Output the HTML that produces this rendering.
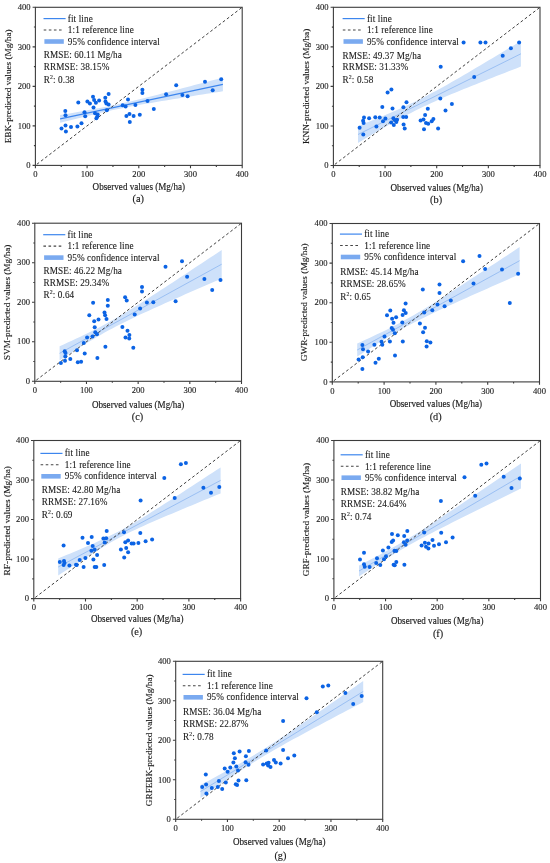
<!DOCTYPE html>
<html><head><meta charset="utf-8"><title>Predicted vs observed AGB scatter plots</title><style>
html,body{margin:0;padding:0;background:#fff;width:550px;height:863px;overflow:hidden}
svg{display:block}
text{font-family:"Liberation Serif", "Times New Roman", serif;fill:#1a1a1a;stroke:#1a1a1a;stroke-width:0.14px}
.tk{fill:#222;stroke:#222;stroke-width:0.12px}
.lg{stroke-width:0.1px}
circle{fill:#0b63e4}
</style></head><body>
<svg width="550" height="863" viewBox="0 0 550 863">
<path d="M60.1 115 L64.17 114.32 L68.24 113.64 L72.31 112.94 L76.38 112.24 L80.45 111.53 L84.52 110.81 L88.59 110.08 L92.66 109.33 L96.73 108.56 L100.8 107.77 L104.87 106.97 L108.94 106.14 L113.01 105.29 L117.08 104.41 L121.15 103.51 L125.22 102.59 L129.29 101.65 L133.36 100.69 L137.43 99.72 L141.5 98.73 L145.57 97.72 L149.64 96.71 L153.71 95.68 L157.78 94.65 L161.85 93.61 L165.92 92.56 L169.99 91.51 L174.06 90.45 L178.13 89.39 L182.2 88.32 L186.27 87.26 L190.34 86.18 L194.41 85.11 L198.48 84.04 L202.55 82.96 L206.62 81.88 L210.69 80.8 L214.76 79.72 L218.83 78.63 L222.9 77.55 L222.9 91.25 L218.83 91.89 L214.76 92.53 L210.69 93.18 L206.62 93.82 L202.55 94.47 L198.48 95.11 L194.41 95.76 L190.34 96.42 L186.27 97.07 L182.2 97.73 L178.13 98.39 L174.06 99.05 L169.99 99.72 L165.92 100.39 L161.85 101.07 L157.78 101.75 L153.71 102.44 L149.64 103.14 L145.57 103.85 L141.5 104.57 L137.43 105.31 L133.36 106.06 L129.29 106.82 L125.22 107.61 L121.15 108.41 L117.08 109.24 L113.01 110.09 L108.94 110.96 L104.87 111.86 L100.8 112.78 L96.73 113.71 L92.66 114.67 L88.59 115.65 L84.52 116.64 L80.45 117.64 L76.38 118.66 L72.31 119.68 L68.24 120.71 L64.17 121.75 L60.1 122.8 Z" fill="#cee1fa"/>
<line x1="60.1" y1="118.9" x2="222.9" y2="84.4" stroke="#3d86ee" stroke-width="1.1"/>
<line x1="36.9" y1="164.25" x2="242.2" y2="7.3" stroke="#404040" stroke-width="1" stroke-dasharray="2.8 2.4"/>
<circle cx="61.5" cy="128.5" r="2"/>
<circle cx="65.5" cy="125.5" r="2"/>
<circle cx="65.9" cy="131.5" r="2"/>
<circle cx="71" cy="127.1" r="2"/>
<circle cx="77.4" cy="126.4" r="2"/>
<circle cx="81.5" cy="123.3" r="2"/>
<circle cx="65.3" cy="111.1" r="2"/>
<circle cx="65.5" cy="115.3" r="2"/>
<circle cx="78.3" cy="102.5" r="2"/>
<circle cx="84.5" cy="112.2" r="2"/>
<circle cx="85.2" cy="116.2" r="2"/>
<circle cx="87.4" cy="101.5" r="2"/>
<circle cx="89.9" cy="103.5" r="2"/>
<circle cx="93" cy="96.7" r="2"/>
<circle cx="93.5" cy="107.4" r="2"/>
<circle cx="94.1" cy="100" r="2"/>
<circle cx="95.9" cy="102.7" r="2"/>
<circle cx="99.1" cy="100.6" r="2"/>
<circle cx="95" cy="113.2" r="2"/>
<circle cx="97.7" cy="114.5" r="2"/>
<circle cx="97.3" cy="116.4" r="2"/>
<circle cx="96.4" cy="118.2" r="2"/>
<circle cx="108.6" cy="94.1" r="2"/>
<circle cx="105.3" cy="97.7" r="2"/>
<circle cx="105.5" cy="101.4" r="2"/>
<circle cx="106.4" cy="103.6" r="2"/>
<circle cx="108.6" cy="104.5" r="2"/>
<circle cx="106.8" cy="110.3" r="2"/>
<circle cx="128" cy="99.4" r="2"/>
<circle cx="122.7" cy="105.2" r="2"/>
<circle cx="125.6" cy="106.4" r="2"/>
<circle cx="135.4" cy="105.1" r="2"/>
<circle cx="126.4" cy="115.9" r="2"/>
<circle cx="129.5" cy="114.1" r="2"/>
<circle cx="133.6" cy="116.1" r="2"/>
<circle cx="129.8" cy="122.1" r="2"/>
<circle cx="139.8" cy="114.8" r="2"/>
<circle cx="142.4" cy="89.8" r="2"/>
<circle cx="142.4" cy="92.9" r="2"/>
<circle cx="147.5" cy="101.1" r="2"/>
<circle cx="153.8" cy="109" r="2"/>
<circle cx="166.1" cy="94.2" r="2"/>
<circle cx="176.2" cy="85.3" r="2"/>
<circle cx="182.4" cy="94.9" r="2"/>
<circle cx="187.6" cy="96.3" r="2"/>
<circle cx="205" cy="81.8" r="2"/>
<circle cx="212.7" cy="90.3" r="2"/>
<circle cx="221.2" cy="79.3" r="2"/>
<rect x="35.4" y="7.3" width="206.8" height="158.1" fill="none" stroke="#3c3c3c" stroke-width="1.1"/>
<path d="M35.4 165.4v2.8M35.4 165.4h-2.8M87.1 165.4v2.8M35.4 125.88h-2.8M138.8 165.4v2.8M35.4 86.35h-2.8M190.5 165.4v2.8M35.4 46.83h-2.8M242.2 165.4v2.8M35.4 7.3h-2.8M61.25 165.4v1.5M35.4 145.64h-1.5M112.95 165.4v1.5M35.4 106.11h-1.5M164.65 165.4v1.5M35.4 66.59h-1.5M216.35 165.4v1.5M35.4 27.06h-1.5" stroke="#3c3c3c" stroke-width="1.1" fill="none"/>
<text transform="translate(35.4 177) scale(1 1.07)" font-size="8.6" text-anchor="middle" class="tk">0</text>
<text transform="translate(30.6 168.1) scale(1 1.05)" font-size="8.6" text-anchor="end" class="tk">0</text>
<text transform="translate(87.1 177) scale(1 1.07)" font-size="8.6" text-anchor="middle" class="tk">100</text>
<text transform="translate(30.6 128.57) scale(1 1.05)" font-size="8.6" text-anchor="end" class="tk">100</text>
<text transform="translate(138.8 177) scale(1 1.07)" font-size="8.6" text-anchor="middle" class="tk">200</text>
<text transform="translate(30.6 89.05) scale(1 1.05)" font-size="8.6" text-anchor="end" class="tk">200</text>
<text transform="translate(190.5 177) scale(1 1.07)" font-size="8.6" text-anchor="middle" class="tk">300</text>
<text transform="translate(30.6 49.53) scale(1 1.05)" font-size="8.6" text-anchor="end" class="tk">300</text>
<text transform="translate(242.2 177) scale(1 1.07)" font-size="8.6" text-anchor="middle" class="tk">400</text>
<text transform="translate(30.6 10) scale(1 1.05)" font-size="8.6" text-anchor="end" class="tk">400</text>
<text transform="translate(138.8 190.3) scale(1 1.15)" font-size="9.1" text-anchor="middle">Observed values (Mg/ha)</text>
<text x="138.2" y="202.4" font-size="10.3" text-anchor="middle">(a)</text>
<text transform="translate(10.9 86.35) rotate(-90)" text-anchor="middle" font-size="9.2">EBK-predicted values (Mg/ha)</text>
<line x1="43.5" y1="18.6" x2="65.6" y2="18.6" stroke="#3d86ee" stroke-width="1.2"/>
<line x1="43.7" y1="30" x2="62.3" y2="30" stroke="#444" stroke-width="1.1" stroke-dasharray="2.6 2.5"/>
<rect x="44.4" y="39.2" width="19.4" height="4.6" fill="#7aaaf0"/>
<text transform="translate(67.8 21.6) scale(1 1.06)" font-size="9.2" letter-spacing="0.1" class="lg">fit line</text>
<text transform="translate(67.8 33.3) scale(1 1.06)" font-size="9.2" letter-spacing="0.1" class="lg">1:1 reference line</text>
<text transform="translate(67.8 44.5) scale(1 1.06)" font-size="9.2" letter-spacing="0.1" class="lg">95% confidence interval</text>
<text transform="translate(43.8 58) scale(1 1.06)" font-size="9.2" letter-spacing="0.1" class="lg">RMSE: 60.11 Mg/ha</text>
<text transform="translate(43.8 69.6) scale(1 1.06)" font-size="9.2" letter-spacing="0.1" class="lg">RRMSE: 38.15%</text>
<text transform="translate(43.8 82.6) scale(1 1.06)" font-size="9.2" letter-spacing="0.1" class="lg">R<tspan font-size="5.8" dy="-3.7">2</tspan><tspan dy="3.7">: 0.38</tspan></text>
<path d="M358 126.1 L362.07 124.48 L366.14 122.84 L370.22 121.2 L374.29 119.54 L378.36 117.87 L382.44 116.18 L386.51 114.47 L390.58 112.74 L394.65 110.98 L398.73 109.19 L402.8 107.36 L406.87 105.5 L410.94 103.59 L415.01 101.64 L419.09 99.64 L423.16 97.59 L427.23 95.49 L431.31 93.34 L435.38 91.16 L439.45 88.93 L443.52 86.68 L447.59 84.39 L451.67 82.08 L455.74 79.75 L459.81 77.39 L463.88 75.02 L467.96 72.64 L472.03 70.25 L476.1 67.84 L480.17 65.43 L484.25 63.01 L488.32 60.58 L492.39 58.15 L496.46 55.71 L500.54 53.27 L504.61 50.82 L508.68 48.37 L512.75 45.92 L516.83 43.46 L520.9 41 L520.9 66.6 L516.83 68.18 L512.75 69.75 L508.68 71.34 L504.61 72.92 L500.54 74.51 L496.46 76.1 L492.39 77.7 L488.32 79.3 L484.25 80.91 L480.17 82.52 L476.1 84.14 L472.03 85.77 L467.96 87.41 L463.88 89.07 L459.81 90.73 L455.74 92.41 L451.67 94.12 L447.59 95.84 L443.52 97.59 L439.45 99.37 L435.38 101.18 L431.31 103.03 L427.23 104.92 L423.16 106.85 L419.09 108.84 L415.01 110.87 L410.94 112.95 L406.87 115.08 L402.8 117.25 L398.73 119.46 L394.65 121.71 L390.58 123.98 L386.51 126.29 L382.44 128.61 L378.36 130.96 L374.29 133.32 L370.22 135.7 L366.14 138.09 L362.07 140.49 L358 142.9 Z" fill="#cee1fa"/>
<line x1="358" y1="134.5" x2="520.9" y2="53.8" stroke="#94bbf2" stroke-width="0.9"/>
<line x1="334.9" y1="164.35" x2="540" y2="7.3" stroke="#404040" stroke-width="1" stroke-dasharray="2.8 2.4"/>
<circle cx="359.6" cy="127.7" r="2"/>
<circle cx="363.3" cy="134.6" r="2"/>
<circle cx="364" cy="117.5" r="2"/>
<circle cx="363.1" cy="120.8" r="2"/>
<circle cx="363.6" cy="123" r="2"/>
<circle cx="369.1" cy="118.3" r="2"/>
<circle cx="375.3" cy="117.2" r="2"/>
<circle cx="376.4" cy="126.4" r="2"/>
<circle cx="379.7" cy="117.5" r="2"/>
<circle cx="382.3" cy="107" r="2"/>
<circle cx="383" cy="121.2" r="2"/>
<circle cx="385.4" cy="118.6" r="2"/>
<circle cx="387.6" cy="92.4" r="2"/>
<circle cx="391.4" cy="89.4" r="2"/>
<circle cx="392.5" cy="108.4" r="2"/>
<circle cx="391.2" cy="122.6" r="2"/>
<circle cx="393.4" cy="118.3" r="2"/>
<circle cx="394.7" cy="120.1" r="2"/>
<circle cx="393.8" cy="125.1" r="2"/>
<circle cx="396.3" cy="121.9" r="2"/>
<circle cx="397.1" cy="119.7" r="2"/>
<circle cx="403.4" cy="107.2" r="2"/>
<circle cx="406.5" cy="102.2" r="2"/>
<circle cx="403.2" cy="116.9" r="2"/>
<circle cx="406.2" cy="116.9" r="2"/>
<circle cx="403.6" cy="124.4" r="2"/>
<circle cx="404.7" cy="128.4" r="2"/>
<circle cx="427.8" cy="108.8" r="2"/>
<circle cx="425.1" cy="114.9" r="2"/>
<circle cx="420.6" cy="120.4" r="2"/>
<circle cx="423.5" cy="119.5" r="2"/>
<circle cx="426" cy="123.1" r="2"/>
<circle cx="428.2" cy="123.8" r="2"/>
<circle cx="431.7" cy="121.3" r="2"/>
<circle cx="433.4" cy="118.9" r="2"/>
<circle cx="424" cy="129.2" r="2"/>
<circle cx="438.1" cy="128.4" r="2"/>
<circle cx="440.3" cy="98.6" r="2"/>
<circle cx="445.5" cy="110.4" r="2"/>
<circle cx="451.9" cy="104" r="2"/>
<circle cx="463.6" cy="42.4" r="2"/>
<circle cx="480.4" cy="42.4" r="2"/>
<circle cx="485.5" cy="42.4" r="2"/>
<circle cx="519.1" cy="42.4" r="2"/>
<circle cx="510.9" cy="48.2" r="2"/>
<circle cx="502.7" cy="55.8" r="2"/>
<circle cx="474.2" cy="77.1" r="2"/>
<circle cx="440.7" cy="66.7" r="2"/>
<rect x="333.4" y="7.3" width="206.6" height="158.2" fill="none" stroke="#3c3c3c" stroke-width="1.1"/>
<path d="M333.4 165.5v2.8M333.4 165.5h-2.8M385.05 165.5v2.8M333.4 125.95h-2.8M436.7 165.5v2.8M333.4 86.4h-2.8M488.35 165.5v2.8M333.4 46.85h-2.8M540 165.5v2.8M333.4 7.3h-2.8M359.22 165.5v1.5M333.4 145.72h-1.5M410.88 165.5v1.5M333.4 106.18h-1.5M462.52 165.5v1.5M333.4 66.63h-1.5M514.17 165.5v1.5M333.4 27.08h-1.5" stroke="#3c3c3c" stroke-width="1.1" fill="none"/>
<text transform="translate(333.4 177.1) scale(1 1.07)" font-size="8.6" text-anchor="middle" class="tk">0</text>
<text transform="translate(328.6 168.2) scale(1 1.05)" font-size="8.6" text-anchor="end" class="tk">0</text>
<text transform="translate(385.05 177.1) scale(1 1.07)" font-size="8.6" text-anchor="middle" class="tk">100</text>
<text transform="translate(328.6 128.65) scale(1 1.05)" font-size="8.6" text-anchor="end" class="tk">100</text>
<text transform="translate(436.7 177.1) scale(1 1.07)" font-size="8.6" text-anchor="middle" class="tk">200</text>
<text transform="translate(328.6 89.1) scale(1 1.05)" font-size="8.6" text-anchor="end" class="tk">200</text>
<text transform="translate(488.35 177.1) scale(1 1.07)" font-size="8.6" text-anchor="middle" class="tk">300</text>
<text transform="translate(328.6 49.55) scale(1 1.05)" font-size="8.6" text-anchor="end" class="tk">300</text>
<text transform="translate(540 177.1) scale(1 1.07)" font-size="8.6" text-anchor="middle" class="tk">400</text>
<text transform="translate(328.6 10) scale(1 1.05)" font-size="8.6" text-anchor="end" class="tk">400</text>
<text transform="translate(436.7 191.3) scale(1 1.15)" font-size="9.1" text-anchor="middle">Observed values (Mg/ha)</text>
<text x="436.1" y="202.5" font-size="10.3" text-anchor="middle">(b)</text>
<text transform="translate(308.9 86.4) rotate(-90)" text-anchor="middle" font-size="9.2">KNN-predicted values (Mg/ha)</text>
<line x1="342.6" y1="18.6" x2="364.7" y2="18.6" stroke="#3d86ee" stroke-width="1.2"/>
<line x1="342.8" y1="30" x2="361.4" y2="30" stroke="#444" stroke-width="1.1" stroke-dasharray="2.6 2.5"/>
<rect x="343.5" y="39.2" width="19.4" height="4.6" fill="#7aaaf0"/>
<text transform="translate(366.9 21.6) scale(1 1.06)" font-size="9.2" letter-spacing="0.1" class="lg">fit line</text>
<text transform="translate(366.9 33.3) scale(1 1.06)" font-size="9.2" letter-spacing="0.1" class="lg">1:1 reference line</text>
<text transform="translate(366.9 44.5) scale(1 1.06)" font-size="9.2" letter-spacing="0.1" class="lg">95% confidence interval</text>
<text transform="translate(342.6 58.7) scale(1 1.06)" font-size="9.2" letter-spacing="0.1" class="lg">RMSE: 49.37 Mg/ha</text>
<text transform="translate(342.6 70.3) scale(1 1.06)" font-size="9.2" letter-spacing="0.1" class="lg">RRMSE: 31.33%</text>
<text transform="translate(342.6 83.3) scale(1 1.06)" font-size="9.2" letter-spacing="0.1" class="lg">R<tspan font-size="5.8" dy="-3.7">2</tspan><tspan dy="3.7">: 0.58</tspan></text>
<path d="M59.6 346.3 L63.65 344.46 L67.7 342.62 L71.76 340.75 L75.81 338.87 L79.86 336.96 L83.91 335.03 L87.97 333.07 L92.02 331.06 L96.07 329.02 L100.12 326.92 L104.18 324.78 L108.23 322.57 L112.28 320.3 L116.34 317.98 L120.39 315.61 L124.44 313.19 L128.49 310.72 L132.54 308.22 L136.6 305.69 L140.65 303.14 L144.7 300.56 L148.75 297.96 L152.81 295.35 L156.86 292.73 L160.91 290.1 L164.96 287.46 L169.02 284.81 L173.07 282.15 L177.12 279.49 L181.18 276.82 L185.23 274.15 L189.28 271.48 L193.33 268.8 L197.38 266.12 L201.44 263.44 L205.49 260.76 L209.54 258.07 L213.59 255.38 L217.65 252.69 L221.7 250 L221.7 278.4 L217.65 280.16 L213.59 281.93 L209.54 283.7 L205.49 285.46 L201.44 287.23 L197.38 289.01 L193.33 290.78 L189.28 292.56 L185.23 294.34 L181.18 296.13 L177.12 297.91 L173.07 299.71 L169.02 301.51 L164.96 303.31 L160.91 305.13 L156.86 306.95 L152.81 308.78 L148.75 310.63 L144.7 312.49 L140.65 314.36 L136.6 316.26 L132.54 318.19 L128.49 320.14 L124.44 322.13 L120.39 324.17 L116.34 326.25 L112.28 328.38 L108.23 330.57 L104.18 332.82 L100.12 335.13 L96.07 337.49 L92.02 339.9 L87.97 342.35 L83.91 344.84 L79.86 347.36 L75.81 349.91 L71.76 352.48 L67.7 355.07 L63.65 357.68 L59.6 360.3 Z" fill="#cee1fa"/>
<line x1="59.6" y1="353.3" x2="221.7" y2="264.2" stroke="#94bbf2" stroke-width="0.9"/>
<line x1="36.3" y1="380.15" x2="241.5" y2="223.2" stroke="#404040" stroke-width="1" stroke-dasharray="2.8 2.4"/>
<circle cx="93.1" cy="302.7" r="2"/>
<circle cx="107.8" cy="300" r="2"/>
<circle cx="107.8" cy="305.7" r="2"/>
<circle cx="89.3" cy="315.3" r="2"/>
<circle cx="104.5" cy="312.5" r="2"/>
<circle cx="105.1" cy="315.3" r="2"/>
<circle cx="106.5" cy="319.1" r="2"/>
<circle cx="98.5" cy="319.6" r="2"/>
<circle cx="94.2" cy="321.3" r="2"/>
<circle cx="94.7" cy="327.3" r="2"/>
<circle cx="95.3" cy="332.3" r="2"/>
<circle cx="97" cy="334.2" r="2"/>
<circle cx="92.5" cy="336.6" r="2"/>
<circle cx="87.1" cy="337.6" r="2"/>
<circle cx="83.8" cy="343.1" r="2"/>
<circle cx="77" cy="350.2" r="2"/>
<circle cx="64.7" cy="351.3" r="2"/>
<circle cx="65.5" cy="353" r="2"/>
<circle cx="65.3" cy="356.5" r="2"/>
<circle cx="84.7" cy="353.4" r="2"/>
<circle cx="105.4" cy="346.7" r="2"/>
<circle cx="97.4" cy="358" r="2"/>
<circle cx="70.3" cy="359" r="2"/>
<circle cx="65" cy="360.8" r="2"/>
<circle cx="60.9" cy="362.9" r="2"/>
<circle cx="77.8" cy="362.2" r="2"/>
<circle cx="81.1" cy="361.8" r="2"/>
<circle cx="125.1" cy="297.2" r="2"/>
<circle cx="126.7" cy="300.5" r="2"/>
<circle cx="142" cy="287.1" r="2"/>
<circle cx="142" cy="291.5" r="2"/>
<circle cx="146.9" cy="302.4" r="2"/>
<circle cx="153.3" cy="302.3" r="2"/>
<circle cx="140.1" cy="308.6" r="2"/>
<circle cx="134.7" cy="314.4" r="2"/>
<circle cx="122.4" cy="327.1" r="2"/>
<circle cx="127.5" cy="330.8" r="2"/>
<circle cx="129.4" cy="335" r="2"/>
<circle cx="125.5" cy="337.5" r="2"/>
<circle cx="129.2" cy="338.5" r="2"/>
<circle cx="133.3" cy="347.8" r="2"/>
<circle cx="165.5" cy="266.8" r="2"/>
<circle cx="182" cy="261.2" r="2"/>
<circle cx="187.1" cy="276.8" r="2"/>
<circle cx="204.4" cy="279" r="2"/>
<circle cx="220.5" cy="279.9" r="2"/>
<circle cx="212.2" cy="290.1" r="2"/>
<circle cx="175.6" cy="301.3" r="2"/>
<rect x="34.8" y="223.2" width="206.7" height="158.1" fill="none" stroke="#3c3c3c" stroke-width="1.1"/>
<path d="M34.8 381.3v2.8M34.8 381.3h-2.8M86.47 381.3v2.8M34.8 341.77h-2.8M138.15 381.3v2.8M34.8 302.25h-2.8M189.82 381.3v2.8M34.8 262.73h-2.8M241.5 381.3v2.8M34.8 223.2h-2.8M60.64 381.3v1.5M34.8 361.54h-1.5M112.31 381.3v1.5M34.8 322.01h-1.5M163.99 381.3v1.5M34.8 282.49h-1.5M215.66 381.3v1.5M34.8 242.96h-1.5" stroke="#3c3c3c" stroke-width="1.1" fill="none"/>
<text transform="translate(34.8 392.9) scale(1 1.07)" font-size="8.6" text-anchor="middle" class="tk">0</text>
<text transform="translate(30 384) scale(1 1.05)" font-size="8.6" text-anchor="end" class="tk">0</text>
<text transform="translate(86.47 392.9) scale(1 1.07)" font-size="8.6" text-anchor="middle" class="tk">100</text>
<text transform="translate(30 344.47) scale(1 1.05)" font-size="8.6" text-anchor="end" class="tk">100</text>
<text transform="translate(138.15 392.9) scale(1 1.07)" font-size="8.6" text-anchor="middle" class="tk">200</text>
<text transform="translate(30 304.95) scale(1 1.05)" font-size="8.6" text-anchor="end" class="tk">200</text>
<text transform="translate(189.82 392.9) scale(1 1.07)" font-size="8.6" text-anchor="middle" class="tk">300</text>
<text transform="translate(30 265.43) scale(1 1.05)" font-size="8.6" text-anchor="end" class="tk">300</text>
<text transform="translate(241.5 392.9) scale(1 1.07)" font-size="8.6" text-anchor="middle" class="tk">400</text>
<text transform="translate(30 225.9) scale(1 1.05)" font-size="8.6" text-anchor="end" class="tk">400</text>
<text transform="translate(138.15 408.1) scale(1 1.15)" font-size="9.1" text-anchor="middle">Observed values (Mg/ha)</text>
<text x="137.55" y="420.2" font-size="10.3" text-anchor="middle">(c)</text>
<text transform="translate(10.3 302.25) rotate(-90)" text-anchor="middle" font-size="9.2">SVM-predicted values (Mg/ha)</text>
<line x1="43.2" y1="234.7" x2="65.3" y2="234.7" stroke="#3d86ee" stroke-width="1.2"/>
<line x1="43.4" y1="246.1" x2="62" y2="246.1" stroke="#444" stroke-width="1.1" stroke-dasharray="2.6 2.5"/>
<rect x="44.1" y="255.3" width="19.4" height="4.6" fill="#7aaaf0"/>
<text transform="translate(67.5 237.7) scale(1 1.06)" font-size="9.2" letter-spacing="0.1" class="lg">fit line</text>
<text transform="translate(67.5 249.4) scale(1 1.06)" font-size="9.2" letter-spacing="0.1" class="lg">1:1 reference line</text>
<text transform="translate(67.5 260.6) scale(1 1.06)" font-size="9.2" letter-spacing="0.1" class="lg">95% confidence interval</text>
<text transform="translate(43.5 273.9) scale(1 1.06)" font-size="9.2" letter-spacing="0.1" class="lg">RMSE: 46.22 Mg/ha</text>
<text transform="translate(43.5 285.5) scale(1 1.06)" font-size="9.2" letter-spacing="0.1" class="lg">RRMSE: 29.34%</text>
<text transform="translate(43.5 297.5) scale(1 1.06)" font-size="9.2" letter-spacing="0.1" class="lg">R<tspan font-size="5.8" dy="-3.7">2</tspan><tspan dy="3.7">: 0.64</tspan></text>
<path d="M357.2 343.5 L361.26 341.65 L365.32 339.78 L369.38 337.9 L373.44 336.01 L377.5 334.09 L381.56 332.14 L385.62 330.17 L389.68 328.16 L393.74 326.1 L397.8 323.99 L401.86 321.83 L405.92 319.61 L409.98 317.33 L414.04 314.99 L418.1 312.6 L422.16 310.16 L426.22 307.69 L430.28 305.18 L434.34 302.64 L438.4 300.08 L442.46 297.5 L446.52 294.9 L450.58 292.29 L454.64 289.67 L458.7 287.05 L462.76 284.41 L466.82 281.77 L470.88 279.12 L474.94 276.47 L479 273.81 L483.06 271.15 L487.12 268.49 L491.18 265.82 L495.24 263.15 L499.3 260.48 L503.36 257.81 L507.42 255.13 L511.48 252.46 L515.54 249.78 L519.6 247.1 L519.6 274.3 L515.54 276.09 L511.48 277.87 L507.42 279.66 L503.36 281.45 L499.3 283.25 L495.24 285.04 L491.18 286.84 L487.12 288.63 L483.06 290.44 L479 292.24 L474.94 294.05 L470.88 295.86 L466.82 297.68 L462.76 299.5 L458.7 301.33 L454.64 303.17 L450.58 305.01 L446.52 306.87 L442.46 308.74 L438.4 310.62 L434.34 312.53 L430.28 314.45 L426.22 316.41 L422.16 318.4 L418.1 320.43 L414.04 322.5 L409.98 324.63 L405.92 326.81 L401.86 329.06 L397.8 331.36 L393.74 333.72 L389.68 336.12 L385.62 338.58 L381.56 341.07 L377.5 343.59 L373.44 346.13 L369.38 348.7 L365.32 351.29 L361.26 353.89 L357.2 356.5 Z" fill="#cee1fa"/>
<line x1="357.2" y1="350" x2="519.6" y2="260.7" stroke="#94bbf2" stroke-width="0.9"/>
<line x1="333.8" y1="380.75" x2="539.5" y2="223.5" stroke="#404040" stroke-width="1" stroke-dasharray="2.8 2.4"/>
<circle cx="390.3" cy="310.4" r="2"/>
<circle cx="403.9" cy="310.2" r="2"/>
<circle cx="387" cy="315.3" r="2"/>
<circle cx="392.1" cy="318.8" r="2"/>
<circle cx="396.1" cy="317.2" r="2"/>
<circle cx="402.6" cy="314.9" r="2"/>
<circle cx="393.5" cy="322.7" r="2"/>
<circle cx="402.3" cy="322.6" r="2"/>
<circle cx="391.7" cy="328.1" r="2"/>
<circle cx="393" cy="329.7" r="2"/>
<circle cx="394.8" cy="333.3" r="2"/>
<circle cx="384.5" cy="336.5" r="2"/>
<circle cx="381.5" cy="341.7" r="2"/>
<circle cx="382.3" cy="344.7" r="2"/>
<circle cx="389.9" cy="341.4" r="2"/>
<circle cx="402.8" cy="341.6" r="2"/>
<circle cx="374.4" cy="344.7" r="2"/>
<circle cx="362.4" cy="344.9" r="2"/>
<circle cx="363" cy="349.3" r="2"/>
<circle cx="368.1" cy="351.5" r="2"/>
<circle cx="362.7" cy="357.3" r="2"/>
<circle cx="358.6" cy="359.4" r="2"/>
<circle cx="378.8" cy="358.7" r="2"/>
<circle cx="375.5" cy="362.7" r="2"/>
<circle cx="395" cy="355.4" r="2"/>
<circle cx="362.4" cy="368.9" r="2"/>
<circle cx="405.6" cy="303.4" r="2"/>
<circle cx="422.8" cy="289.6" r="2"/>
<circle cx="439.5" cy="284.6" r="2"/>
<circle cx="439.5" cy="293.1" r="2"/>
<circle cx="450.8" cy="300.6" r="2"/>
<circle cx="444.6" cy="306.2" r="2"/>
<circle cx="437.5" cy="304.5" r="2"/>
<circle cx="432.3" cy="310.3" r="2"/>
<circle cx="424.2" cy="312.5" r="2"/>
<circle cx="405.7" cy="312.9" r="2"/>
<circle cx="419.9" cy="323.4" r="2"/>
<circle cx="425" cy="327.8" r="2"/>
<circle cx="423.1" cy="332.3" r="2"/>
<circle cx="426.8" cy="341.3" r="2"/>
<circle cx="430.4" cy="342.4" r="2"/>
<circle cx="426.6" cy="346.5" r="2"/>
<circle cx="463.1" cy="261.2" r="2"/>
<circle cx="479.5" cy="256.1" r="2"/>
<circle cx="485.1" cy="269" r="2"/>
<circle cx="502" cy="269.4" r="2"/>
<circle cx="518.1" cy="273.7" r="2"/>
<circle cx="473.5" cy="283.5" r="2"/>
<circle cx="509.8" cy="303" r="2"/>
<rect x="332.3" y="223.5" width="207.2" height="158.4" fill="none" stroke="#3c3c3c" stroke-width="1.1"/>
<path d="M332.3 381.9v2.8M332.3 381.9h-2.8M384.1 381.9v2.8M332.3 342.3h-2.8M435.9 381.9v2.8M332.3 302.7h-2.8M487.7 381.9v2.8M332.3 263.1h-2.8M539.5 381.9v2.8M332.3 223.5h-2.8M358.2 381.9v1.5M332.3 362.1h-1.5M410 381.9v1.5M332.3 322.5h-1.5M461.8 381.9v1.5M332.3 282.9h-1.5M513.6 381.9v1.5M332.3 243.3h-1.5" stroke="#3c3c3c" stroke-width="1.1" fill="none"/>
<text transform="translate(332.3 393.5) scale(1 1.07)" font-size="8.6" text-anchor="middle" class="tk">0</text>
<text transform="translate(327.5 384.6) scale(1 1.05)" font-size="8.6" text-anchor="end" class="tk">0</text>
<text transform="translate(384.1 393.5) scale(1 1.07)" font-size="8.6" text-anchor="middle" class="tk">100</text>
<text transform="translate(327.5 345) scale(1 1.05)" font-size="8.6" text-anchor="end" class="tk">100</text>
<text transform="translate(435.9 393.5) scale(1 1.07)" font-size="8.6" text-anchor="middle" class="tk">200</text>
<text transform="translate(327.5 305.4) scale(1 1.05)" font-size="8.6" text-anchor="end" class="tk">200</text>
<text transform="translate(487.7 393.5) scale(1 1.07)" font-size="8.6" text-anchor="middle" class="tk">300</text>
<text transform="translate(327.5 265.8) scale(1 1.05)" font-size="8.6" text-anchor="end" class="tk">300</text>
<text transform="translate(539.5 393.5) scale(1 1.07)" font-size="8.6" text-anchor="middle" class="tk">400</text>
<text transform="translate(327.5 226.2) scale(1 1.05)" font-size="8.6" text-anchor="end" class="tk">400</text>
<text transform="translate(435.9 407.4) scale(1 1.15)" font-size="9.1" text-anchor="middle">Observed values (Mg/ha)</text>
<text x="435.7" y="419.8" font-size="10.3" text-anchor="middle">(d)</text>
<text transform="translate(306.7 302.3) rotate(-90)" text-anchor="middle" font-size="9.2" textLength="118" lengthAdjust="spacingAndGlyphs">GWR-predicted values (Mg/ha)</text>
<line x1="339.9" y1="234.1" x2="362" y2="234.1" stroke="#3d86ee" stroke-width="1.2"/>
<line x1="340.1" y1="245.5" x2="358.7" y2="245.5" stroke="#444" stroke-width="1.1" stroke-dasharray="2.6 2.5"/>
<rect x="340.8" y="254.7" width="19.4" height="4.6" fill="#7aaaf0"/>
<text transform="translate(364.2 237.1) scale(1 1.06)" font-size="9.2" letter-spacing="0.1" class="lg">fit line</text>
<text transform="translate(364.2 248.8) scale(1 1.06)" font-size="9.2" letter-spacing="0.1" class="lg">1:1 reference line</text>
<text transform="translate(364.2 260) scale(1 1.06)" font-size="9.2" letter-spacing="0.1" class="lg">95% confidence interval</text>
<text transform="translate(340.2 274.9) scale(1 1.06)" font-size="9.2" letter-spacing="0.1" class="lg">RMSE: 45.14 Mg/ha</text>
<text transform="translate(340.2 286.5) scale(1 1.06)" font-size="9.2" letter-spacing="0.1" class="lg">RRMSE: 28.65%</text>
<text transform="translate(340.2 299.5) scale(1 1.06)" font-size="9.2" letter-spacing="0.1" class="lg">R<tspan font-size="5.8" dy="-3.7">2</tspan><tspan dy="3.7">: 0.65</tspan></text>
<path d="M58.2 558.5 L62.26 556.8 L66.32 555.1 L70.38 553.39 L74.44 551.67 L78.5 549.95 L82.56 548.21 L86.62 546.45 L90.68 544.68 L94.74 542.89 L98.8 541.07 L102.86 539.21 L106.92 537.3 L110.98 535.34 L115.04 533.32 L119.1 531.22 L123.16 529.04 L127.22 526.79 L131.28 524.46 L135.34 522.08 L139.4 519.64 L143.46 517.15 L147.52 514.64 L151.58 512.1 L155.64 509.53 L159.7 506.95 L163.76 504.35 L167.82 501.75 L171.88 499.13 L175.94 496.51 L180 493.88 L184.06 491.25 L188.12 488.61 L192.18 485.97 L196.24 483.32 L200.3 480.67 L204.36 478.02 L208.42 475.37 L212.48 472.71 L216.54 470.06 L220.6 467.4 L220.6 493.4 L216.54 495.07 L212.48 496.75 L208.42 498.42 L204.36 500.1 L200.3 501.78 L196.24 503.46 L192.18 505.14 L188.12 506.83 L184.06 508.52 L180 510.22 L175.94 511.92 L171.88 513.63 L167.82 515.34 L163.76 517.07 L159.7 518.8 L155.64 520.55 L151.58 522.31 L147.52 524.1 L143.46 525.92 L139.4 527.76 L135.34 529.65 L131.28 531.6 L127.22 533.6 L123.16 535.68 L119.1 537.83 L115.04 540.06 L110.98 542.37 L106.92 544.74 L102.86 547.16 L98.8 549.63 L94.74 552.14 L90.68 554.68 L86.62 557.24 L82.56 559.81 L78.5 562.4 L74.44 565.01 L70.38 567.62 L66.32 570.24 L62.26 572.87 L58.2 575.5 Z" fill="#cee1fa"/>
<line x1="58.2" y1="567" x2="220.6" y2="480.4" stroke="#94bbf2" stroke-width="0.9"/>
<line x1="35.3" y1="597.45" x2="240.6" y2="440.5" stroke="#404040" stroke-width="1" stroke-dasharray="2.8 2.4"/>
<circle cx="106.7" cy="531.1" r="2"/>
<circle cx="82.5" cy="537.7" r="2"/>
<circle cx="91.7" cy="536.9" r="2"/>
<circle cx="63.6" cy="545.6" r="2"/>
<circle cx="88" cy="542.9" r="2"/>
<circle cx="103.4" cy="538.6" r="2"/>
<circle cx="106.2" cy="538.3" r="2"/>
<circle cx="104.7" cy="542.4" r="2"/>
<circle cx="92.7" cy="546" r="2"/>
<circle cx="91.4" cy="550.8" r="2"/>
<circle cx="94.7" cy="549.7" r="2"/>
<circle cx="97.1" cy="554.9" r="2"/>
<circle cx="93.4" cy="559.5" r="2"/>
<circle cx="85.4" cy="558" r="2"/>
<circle cx="79.7" cy="560.1" r="2"/>
<circle cx="59.8" cy="562" r="2"/>
<circle cx="64" cy="560.9" r="2"/>
<circle cx="63.6" cy="564.9" r="2"/>
<circle cx="69.4" cy="565.6" r="2"/>
<circle cx="76" cy="564.7" r="2"/>
<circle cx="83.6" cy="567.1" r="2"/>
<circle cx="94.7" cy="567.1" r="2"/>
<circle cx="96.3" cy="566.9" r="2"/>
<circle cx="104.2" cy="565" r="2"/>
<circle cx="140.6" cy="500.5" r="2"/>
<circle cx="124" cy="532.2" r="2"/>
<circle cx="140.3" cy="532.9" r="2"/>
<circle cx="125.3" cy="542.3" r="2"/>
<circle cx="128.1" cy="540.6" r="2"/>
<circle cx="131.6" cy="543.4" r="2"/>
<circle cx="133.6" cy="543.6" r="2"/>
<circle cx="138.4" cy="543.1" r="2"/>
<circle cx="145.6" cy="541.2" r="2"/>
<circle cx="152.1" cy="539.5" r="2"/>
<circle cx="126.2" cy="548" r="2"/>
<circle cx="120.9" cy="549.6" r="2"/>
<circle cx="128.1" cy="552.3" r="2"/>
<circle cx="124.2" cy="557.6" r="2"/>
<circle cx="164.3" cy="478" r="2"/>
<circle cx="180.9" cy="464.2" r="2"/>
<circle cx="185.9" cy="463" r="2"/>
<circle cx="174.7" cy="498" r="2"/>
<circle cx="203.4" cy="487.7" r="2"/>
<circle cx="211" cy="492.8" r="2"/>
<circle cx="219.3" cy="487.1" r="2"/>
<circle cx="64.5" cy="563.1" r="2"/>
<circle cx="76.7" cy="565.1" r="2"/>
<rect x="33.8" y="440.5" width="206.8" height="158.1" fill="none" stroke="#3c3c3c" stroke-width="1.1"/>
<path d="M33.8 598.6v2.8M33.8 598.6h-2.8M85.5 598.6v2.8M33.8 559.08h-2.8M137.2 598.6v2.8M33.8 519.55h-2.8M188.9 598.6v2.8M33.8 480.02h-2.8M240.6 598.6v2.8M33.8 440.5h-2.8M59.65 598.6v1.5M33.8 578.84h-1.5M111.35 598.6v1.5M33.8 539.31h-1.5M163.05 598.6v1.5M33.8 499.79h-1.5M214.75 598.6v1.5M33.8 460.26h-1.5" stroke="#3c3c3c" stroke-width="1.1" fill="none"/>
<text transform="translate(33.8 610.2) scale(1 1.07)" font-size="8.6" text-anchor="middle" class="tk">0</text>
<text transform="translate(29 601.3) scale(1 1.05)" font-size="8.6" text-anchor="end" class="tk">0</text>
<text transform="translate(85.5 610.2) scale(1 1.07)" font-size="8.6" text-anchor="middle" class="tk">100</text>
<text transform="translate(29 561.78) scale(1 1.05)" font-size="8.6" text-anchor="end" class="tk">100</text>
<text transform="translate(137.2 610.2) scale(1 1.07)" font-size="8.6" text-anchor="middle" class="tk">200</text>
<text transform="translate(29 522.25) scale(1 1.05)" font-size="8.6" text-anchor="end" class="tk">200</text>
<text transform="translate(188.9 610.2) scale(1 1.07)" font-size="8.6" text-anchor="middle" class="tk">300</text>
<text transform="translate(29 482.72) scale(1 1.05)" font-size="8.6" text-anchor="end" class="tk">300</text>
<text transform="translate(240.6 610.2) scale(1 1.07)" font-size="8.6" text-anchor="middle" class="tk">400</text>
<text transform="translate(29 443.2) scale(1 1.05)" font-size="8.6" text-anchor="end" class="tk">400</text>
<text transform="translate(137.2 622) scale(1 1.15)" font-size="9.1" text-anchor="middle">Observed values (Mg/ha)</text>
<text x="136.6" y="634.7" font-size="10.3" text-anchor="middle">(e)</text>
<text transform="translate(9.6 520.75) rotate(-90)" text-anchor="middle" font-size="9.2" textLength="109.4" lengthAdjust="spacingAndGlyphs">RF-predicted values (Mg/ha)</text>
<line x1="40.4" y1="453.4" x2="62.5" y2="453.4" stroke="#3d86ee" stroke-width="1.2"/>
<line x1="40.6" y1="464.8" x2="59.2" y2="464.8" stroke="#444" stroke-width="1.1" stroke-dasharray="2.6 2.5"/>
<rect x="41.3" y="474" width="19.4" height="4.6" fill="#7aaaf0"/>
<text transform="translate(64.7 456.4) scale(1 1.06)" font-size="9.2" letter-spacing="0.1" class="lg">fit line</text>
<text transform="translate(64.7 468.1) scale(1 1.06)" font-size="9.2" letter-spacing="0.1" class="lg">1:1 reference line</text>
<text transform="translate(64.7 479.3) scale(1 1.06)" font-size="9.2" letter-spacing="0.1" class="lg">95% confidence interval</text>
<text transform="translate(41.8 493.4) scale(1 1.06)" font-size="9.2" letter-spacing="0.1" class="lg">RMSE: 42.80 Mg/ha</text>
<text transform="translate(41.8 505) scale(1 1.06)" font-size="9.2" letter-spacing="0.1" class="lg">RRMSE: 27.16%</text>
<text transform="translate(41.8 518) scale(1 1.06)" font-size="9.2" letter-spacing="0.1" class="lg">R<tspan font-size="5.8" dy="-3.7">2</tspan><tspan dy="3.7">: 0.69</tspan></text>
<path d="M359 565.5 L363.05 563.43 L367.1 561.35 L371.15 559.25 L375.2 557.14 L379.25 554.99 L383.3 552.82 L387.35 550.61 L391.4 548.37 L395.45 546.08 L399.5 543.75 L403.55 541.37 L407.6 538.94 L411.65 536.47 L415.7 533.95 L419.75 531.4 L423.8 528.81 L427.85 526.2 L431.9 523.57 L435.95 520.91 L440 518.24 L444.05 515.55 L448.1 512.85 L452.15 510.14 L456.2 507.43 L460.25 504.7 L464.3 501.97 L468.35 499.23 L472.4 496.49 L476.45 493.75 L480.5 491 L484.55 488.25 L488.6 485.5 L492.65 482.74 L496.7 479.98 L500.75 477.22 L504.8 474.46 L508.85 471.7 L512.9 468.93 L516.95 466.17 L521 463.4 L521 488.6 L516.95 490.58 L512.9 492.57 L508.85 494.55 L504.8 496.54 L500.75 498.53 L496.7 500.52 L492.65 502.51 L488.6 504.5 L484.55 506.5 L480.5 508.5 L476.45 510.5 L472.4 512.51 L468.35 514.52 L464.3 516.53 L460.25 518.55 L456.2 520.57 L452.15 522.61 L448.1 524.65 L444.05 526.7 L440 528.76 L435.95 530.84 L431.9 532.93 L427.85 535.05 L423.8 537.19 L419.75 539.35 L415.7 541.55 L411.65 543.78 L407.6 546.06 L403.55 548.38 L399.5 550.75 L395.45 553.17 L391.4 555.63 L387.35 558.14 L383.3 560.68 L379.25 563.26 L375.2 565.86 L371.15 568.5 L367.1 571.15 L363.05 573.82 L359 576.5 Z" fill="#cee1fa"/>
<line x1="359" y1="571" x2="521" y2="476" stroke="#94bbf2" stroke-width="0.9"/>
<line x1="335.4" y1="597.35" x2="540.5" y2="440.5" stroke="#404040" stroke-width="1" stroke-dasharray="2.8 2.4"/>
<circle cx="407.3" cy="531.1" r="2"/>
<circle cx="392" cy="534" r="2"/>
<circle cx="397.8" cy="535.3" r="2"/>
<circle cx="404.2" cy="536" r="2"/>
<circle cx="407.2" cy="540.5" r="2"/>
<circle cx="403.9" cy="542.3" r="2"/>
<circle cx="405.6" cy="544.8" r="2"/>
<circle cx="393.1" cy="540.5" r="2"/>
<circle cx="391.7" cy="542" r="2"/>
<circle cx="388.4" cy="547.5" r="2"/>
<circle cx="382.9" cy="550.5" r="2"/>
<circle cx="394.5" cy="550.8" r="2"/>
<circle cx="396.3" cy="551.1" r="2"/>
<circle cx="364" cy="552.7" r="2"/>
<circle cx="360" cy="559.5" r="2"/>
<circle cx="377" cy="558.2" r="2"/>
<circle cx="386" cy="556.2" r="2"/>
<circle cx="384" cy="559.3" r="2"/>
<circle cx="376.2" cy="563.1" r="2"/>
<circle cx="380.3" cy="564.9" r="2"/>
<circle cx="364" cy="564.2" r="2"/>
<circle cx="364.7" cy="566.7" r="2"/>
<circle cx="369.6" cy="567.1" r="2"/>
<circle cx="393.6" cy="564.7" r="2"/>
<circle cx="396.3" cy="562" r="2"/>
<circle cx="394.7" cy="565.3" r="2"/>
<circle cx="404.4" cy="564.8" r="2"/>
<circle cx="440.9" cy="501.1" r="2"/>
<circle cx="424.2" cy="532.5" r="2"/>
<circle cx="441.2" cy="532.7" r="2"/>
<circle cx="452.6" cy="537.6" r="2"/>
<circle cx="432.5" cy="540.1" r="2"/>
<circle cx="424.9" cy="542.7" r="2"/>
<circle cx="428.6" cy="543.4" r="2"/>
<circle cx="446" cy="542.3" r="2"/>
<circle cx="439" cy="544.2" r="2"/>
<circle cx="434" cy="545.8" r="2"/>
<circle cx="421.6" cy="545.6" r="2"/>
<circle cx="426" cy="546.7" r="2"/>
<circle cx="428.4" cy="548.5" r="2"/>
<circle cx="464.5" cy="477.3" r="2"/>
<circle cx="481.3" cy="464.7" r="2"/>
<circle cx="486.5" cy="463.5" r="2"/>
<circle cx="475.2" cy="495.8" r="2"/>
<circle cx="503.7" cy="476.8" r="2"/>
<circle cx="511.5" cy="488" r="2"/>
<circle cx="519.8" cy="478.5" r="2"/>
<rect x="333.9" y="440.5" width="206.6" height="158" fill="none" stroke="#3c3c3c" stroke-width="1.1"/>
<path d="M333.9 598.5v2.8M333.9 598.5h-2.8M385.55 598.5v2.8M333.9 559h-2.8M437.2 598.5v2.8M333.9 519.5h-2.8M488.85 598.5v2.8M333.9 480h-2.8M540.5 598.5v2.8M333.9 440.5h-2.8M359.72 598.5v1.5M333.9 578.75h-1.5M411.38 598.5v1.5M333.9 539.25h-1.5M463.02 598.5v1.5M333.9 499.75h-1.5M514.67 598.5v1.5M333.9 460.25h-1.5" stroke="#3c3c3c" stroke-width="1.1" fill="none"/>
<text transform="translate(333.9 610.1) scale(1 1.07)" font-size="8.6" text-anchor="middle" class="tk">0</text>
<text transform="translate(329.1 601.2) scale(1 1.05)" font-size="8.6" text-anchor="end" class="tk">0</text>
<text transform="translate(385.55 610.1) scale(1 1.07)" font-size="8.6" text-anchor="middle" class="tk">100</text>
<text transform="translate(329.1 561.7) scale(1 1.05)" font-size="8.6" text-anchor="end" class="tk">100</text>
<text transform="translate(437.2 610.1) scale(1 1.07)" font-size="8.6" text-anchor="middle" class="tk">200</text>
<text transform="translate(329.1 522.2) scale(1 1.05)" font-size="8.6" text-anchor="end" class="tk">200</text>
<text transform="translate(488.85 610.1) scale(1 1.07)" font-size="8.6" text-anchor="middle" class="tk">300</text>
<text transform="translate(329.1 482.7) scale(1 1.05)" font-size="8.6" text-anchor="end" class="tk">300</text>
<text transform="translate(540.5 610.1) scale(1 1.07)" font-size="8.6" text-anchor="middle" class="tk">400</text>
<text transform="translate(329.1 443.2) scale(1 1.05)" font-size="8.6" text-anchor="end" class="tk">400</text>
<text transform="translate(437.2 624) scale(1 1.15)" font-size="9.1" text-anchor="middle">Observed values (Mg/ha)</text>
<text x="438.1" y="636.5" font-size="10.3" text-anchor="middle">(f)</text>
<text transform="translate(309.4 519.5) rotate(-90)" text-anchor="middle" font-size="9.2">GRF-predicted values (Mg/ha)</text>
<line x1="340.6" y1="454.8" x2="362.7" y2="454.8" stroke="#3d86ee" stroke-width="1.2"/>
<line x1="340.8" y1="466.2" x2="359.4" y2="466.2" stroke="#444" stroke-width="1.1" stroke-dasharray="2.6 2.5"/>
<rect x="341.5" y="475.4" width="19.4" height="4.6" fill="#7aaaf0"/>
<text transform="translate(364.9 457.8) scale(1 1.06)" font-size="9.2" letter-spacing="0.1" class="lg">fit line</text>
<text transform="translate(364.9 469.5) scale(1 1.06)" font-size="9.2" letter-spacing="0.1" class="lg">1:1 reference line</text>
<text transform="translate(364.9 480.7) scale(1 1.06)" font-size="9.2" letter-spacing="0.1" class="lg">95% confidence interval</text>
<text transform="translate(340.8 495.4) scale(1 1.06)" font-size="9.2" letter-spacing="0.1" class="lg">RMSE: 38.82 Mg/ha</text>
<text transform="translate(340.8 507) scale(1 1.06)" font-size="9.2" letter-spacing="0.1" class="lg">RRMSE: 24.64%</text>
<text transform="translate(340.8 520) scale(1 1.06)" font-size="9.2" letter-spacing="0.1" class="lg">R<tspan font-size="5.8" dy="-3.7">2</tspan><tspan dy="3.7">: 0.74</tspan></text>
<path d="M200.5 785 L204.57 782.82 L208.63 780.63 L212.7 778.44 L216.77 776.23 L220.84 774.01 L224.91 771.78 L228.97 769.53 L233.04 767.26 L237.11 764.96 L241.18 762.64 L245.24 760.28 L249.31 757.89 L253.38 755.47 L257.44 753 L261.51 750.49 L265.58 747.94 L269.65 745.34 L273.72 742.71 L277.78 740.05 L281.85 737.36 L285.92 734.64 L289.99 731.9 L294.05 729.15 L298.12 726.37 L302.19 723.58 L306.25 720.79 L310.32 717.98 L314.39 715.16 L318.46 712.34 L322.52 709.51 L326.59 706.67 L330.66 703.83 L334.73 700.99 L338.79 698.14 L342.86 695.29 L346.93 692.44 L351 689.58 L355.06 686.72 L359.13 683.86 L363.2 681 L363.2 702 L359.13 704.14 L355.06 706.28 L351 708.42 L346.93 710.56 L342.86 712.71 L338.79 714.86 L334.73 717.01 L330.66 719.17 L326.59 721.33 L322.52 723.49 L318.46 725.66 L314.39 727.84 L310.32 730.02 L306.25 732.21 L302.19 734.42 L298.12 736.63 L294.05 738.85 L289.99 741.1 L285.92 743.36 L281.85 745.64 L277.78 747.95 L273.72 750.29 L269.65 752.66 L265.58 755.06 L261.51 757.51 L257.44 760 L253.38 762.53 L249.31 765.11 L245.24 767.72 L241.18 770.36 L237.11 773.04 L233.04 775.74 L228.97 778.47 L224.91 781.22 L220.84 783.99 L216.77 786.77 L212.7 789.56 L208.63 792.37 L204.57 795.18 L200.5 798 Z" fill="#cee1fa"/>
<line x1="200.5" y1="791.5" x2="363.2" y2="691.5" stroke="#94bbf2" stroke-width="0.9"/>
<line x1="177.2" y1="818.16" x2="382.7" y2="661.3" stroke="#404040" stroke-width="1" stroke-dasharray="2.8 2.4"/>
<circle cx="248.9" cy="750.9" r="2"/>
<circle cx="239.6" cy="751.5" r="2"/>
<circle cx="233.8" cy="753.3" r="2"/>
<circle cx="245.9" cy="756.3" r="2"/>
<circle cx="234.9" cy="758.3" r="2"/>
<circle cx="233.4" cy="762.4" r="2"/>
<circle cx="245.6" cy="762.2" r="2"/>
<circle cx="248.5" cy="764.7" r="2"/>
<circle cx="236.3" cy="766.4" r="2"/>
<circle cx="230.3" cy="767.5" r="2"/>
<circle cx="224.7" cy="768.6" r="2"/>
<circle cx="227.6" cy="771.8" r="2"/>
<circle cx="238" cy="770.5" r="2"/>
<circle cx="205.8" cy="774.4" r="2"/>
<circle cx="218.9" cy="780.9" r="2"/>
<circle cx="225.8" cy="782.5" r="2"/>
<circle cx="238.5" cy="780.6" r="2"/>
<circle cx="246.3" cy="780.2" r="2"/>
<circle cx="206.1" cy="784.5" r="2"/>
<circle cx="202.2" cy="787.1" r="2"/>
<circle cx="211.8" cy="788" r="2"/>
<circle cx="217.8" cy="787.1" r="2"/>
<circle cx="222.2" cy="788.9" r="2"/>
<circle cx="235.8" cy="784.2" r="2"/>
<circle cx="237.1" cy="784.9" r="2"/>
<circle cx="206.4" cy="793.4" r="2"/>
<circle cx="283.1" cy="721.1" r="2"/>
<circle cx="266.2" cy="750.5" r="2"/>
<circle cx="283.1" cy="750" r="2"/>
<circle cx="294.3" cy="755.4" r="2"/>
<circle cx="288" cy="758.2" r="2"/>
<circle cx="274" cy="760.1" r="2"/>
<circle cx="275.8" cy="762.5" r="2"/>
<circle cx="280.6" cy="763.6" r="2"/>
<circle cx="263.1" cy="764.5" r="2"/>
<circle cx="266.7" cy="763.4" r="2"/>
<circle cx="268.6" cy="762.7" r="2"/>
<circle cx="268.1" cy="765.6" r="2"/>
<circle cx="270.5" cy="766.9" r="2"/>
<circle cx="306.5" cy="698.2" r="2"/>
<circle cx="322.8" cy="686.4" r="2"/>
<circle cx="328.3" cy="685.5" r="2"/>
<circle cx="316.8" cy="712.2" r="2"/>
<circle cx="345.4" cy="693.1" r="2"/>
<circle cx="353.2" cy="704" r="2"/>
<circle cx="361.7" cy="696" r="2"/>
<rect x="175.7" y="661.3" width="207" height="158" fill="none" stroke="#3c3c3c" stroke-width="1.1"/>
<path d="M175.7 819.3v2.8M175.7 819.3h-2.8M227.45 819.3v2.8M175.7 779.8h-2.8M279.2 819.3v2.8M175.7 740.3h-2.8M330.95 819.3v2.8M175.7 700.8h-2.8M382.7 819.3v2.8M175.7 661.3h-2.8M201.57 819.3v1.5M175.7 799.55h-1.5M253.32 819.3v1.5M175.7 760.05h-1.5M305.07 819.3v1.5M175.7 720.55h-1.5M356.82 819.3v1.5M175.7 681.05h-1.5" stroke="#3c3c3c" stroke-width="1.1" fill="none"/>
<text transform="translate(175.7 830.9) scale(1 1.07)" font-size="8.6" text-anchor="middle" class="tk">0</text>
<text transform="translate(170.9 822) scale(1 1.05)" font-size="8.6" text-anchor="end" class="tk">0</text>
<text transform="translate(227.45 830.9) scale(1 1.07)" font-size="8.6" text-anchor="middle" class="tk">100</text>
<text transform="translate(170.9 782.5) scale(1 1.05)" font-size="8.6" text-anchor="end" class="tk">100</text>
<text transform="translate(279.2 830.9) scale(1 1.07)" font-size="8.6" text-anchor="middle" class="tk">200</text>
<text transform="translate(170.9 743) scale(1 1.05)" font-size="8.6" text-anchor="end" class="tk">200</text>
<text transform="translate(330.95 830.9) scale(1 1.07)" font-size="8.6" text-anchor="middle" class="tk">300</text>
<text transform="translate(170.9 703.5) scale(1 1.05)" font-size="8.6" text-anchor="end" class="tk">300</text>
<text transform="translate(382.7 830.9) scale(1 1.07)" font-size="8.6" text-anchor="middle" class="tk">400</text>
<text transform="translate(170.9 664) scale(1 1.05)" font-size="8.6" text-anchor="end" class="tk">400</text>
<text transform="translate(279.2 844.6) scale(1 1.15)" font-size="9.1" text-anchor="middle">Observed values (Mg/ha)</text>
<text x="280.4" y="858.8" font-size="10.3" text-anchor="middle">(g)</text>
<text transform="translate(152.2 740.3) rotate(-90)" text-anchor="middle" font-size="9.2">GRFEBK-predicted values (Mg/ha)</text>
<line x1="182.6" y1="674.4" x2="204.7" y2="674.4" stroke="#3d86ee" stroke-width="1.2"/>
<line x1="182.8" y1="685.8" x2="201.4" y2="685.8" stroke="#444" stroke-width="1.1" stroke-dasharray="2.6 2.5"/>
<rect x="183.5" y="695" width="19.4" height="4.6" fill="#7aaaf0"/>
<text transform="translate(206.9 677.4) scale(1 1.06)" font-size="9.2" letter-spacing="0.1" class="lg">fit line</text>
<text transform="translate(206.9 689.1) scale(1 1.06)" font-size="9.2" letter-spacing="0.1" class="lg">1:1 reference line</text>
<text transform="translate(206.9 700.3) scale(1 1.06)" font-size="9.2" letter-spacing="0.1" class="lg">95% confidence interval</text>
<text transform="translate(182.9 715) scale(1 1.06)" font-size="9.2" letter-spacing="0.1" class="lg">RMSE: 36.04 Mg/ha</text>
<text transform="translate(182.9 726.6) scale(1 1.06)" font-size="9.2" letter-spacing="0.1" class="lg">RRMSE: 22.87%</text>
<text transform="translate(182.9 739.6) scale(1 1.06)" font-size="9.2" letter-spacing="0.1" class="lg">R<tspan font-size="5.8" dy="-3.7">2</tspan><tspan dy="3.7">: 0.78</tspan></text>
</svg>
</body></html>
